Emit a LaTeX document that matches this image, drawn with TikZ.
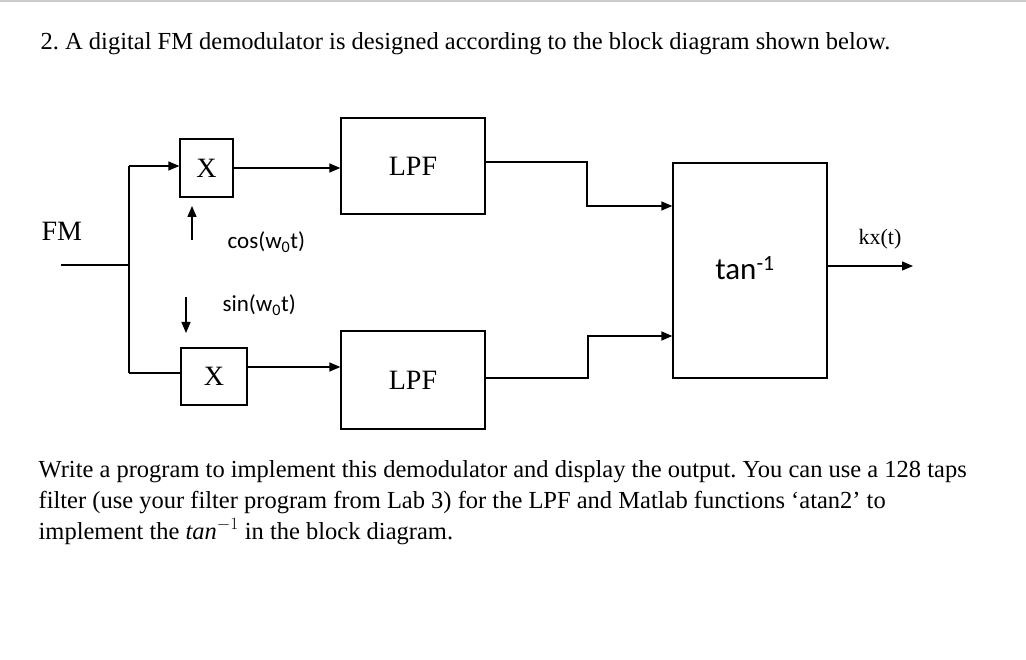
\documentclass[tikz,border=0pt]{standalone}
\usepackage{fontspec}
\usetikzlibrary{arrows.meta}
\setmainfont{Liberation Serif}
\newfontfamily\carl{Carlito}
\frenchspacing
\begin{document}
\begin{tikzpicture}[x=1pt,y=-1pt,line width=1.3pt,
  blk/.style={draw,line width=1.3pt},
  arr/.style={-{Triangle[length=11pt,width=9pt]}},
  lbl/.style={font=\fontsize{28}{28}\selectfont},
  txt/.style={font=\fontsize{24.5}{31}\selectfont,anchor=base west,inner sep=0}]
\useasboundingbox (0,0) rectangle (1026,660);
\draw[gray!40,line width=2pt] (0,1) -- (1026,1);
\node[txt] (title) at (40,50) {2. A digital FM demodulator is designed according to the block diagram shown below.};
\node[blk,lbl,minimum width=53,minimum height=58] (x1) at (206.5,168) {X};
\node[blk,lbl,minimum width=144,minimum height=96] (l1) at (413,166) {LPF};
\node[blk,lbl,minimum width=66,minimum height=57] (x2) at (214,376.5) {X};
\node[blk,lbl,minimum width=144,minimum height=98] (l2) at (413,380) {LPF};
\node[blk,minimum width=154,minimum height=215,font=\carl\fontsize{31}{31}\selectfont] (t) at (750,270.5) {};
\node[font=\carl\fontsize{31}{31}\selectfont] (tl) at (745,268) {tan\textsuperscript{-1}};
\node[lbl,anchor=west,inner sep=0] (fm) at (41,231) {FM};
\coordinate (in) at (61,265);
\coordinate (j) at (129,265);
\coordinate (jt) at (129,166);
\coordinate (jb) at (129,373);
\draw (in) -- (j) (jt) -- (jb);
\draw[arr] (jt) -- (x1.west|-jt);
\draw (jb) -- (x2.west|-jb);
\draw[arr] (x1.east|-0,168) -- (l1.west|-0,168);
\draw[arr] (x2.east|-0,367) -- (l2.west|-0,367);
\draw[arr] (l1.east|-0,162) -- (587,162) -- (587,206) -- (t.west|-0,206);
\draw[arr] (l2.east|-0,378) -- (588,378) -- (588,336) -- (t.west|-0,336);
\coordinate (out) at (913,266);
\draw[arr] (t.east|-out) -- (out);
\node[font=\fontsize{22}{22}\selectfont] (kx) at (880,239) {kx(t)};
\coordinate (c1) at (192,240); \coordinate (c2) at (192,206);
\draw[arr] (c1) -- (c2);
\node[font=\carl\fontsize{23}{23}\selectfont,anchor=west,inner sep=0] (cos) at (227,242) {cos(w\textsubscript{0}t)};
\coordinate (s1) at (186,297); \coordinate (s2) at (186,333);
\draw[arr] (s1) -- (s2);
\node[font=\carl\fontsize{23}{23}\selectfont,anchor=west,inner sep=0] (sin) at (222,305) {sin(w\textsubscript{0}t)};
\node[txt] (p1) at (38,477) {Write a program to implement this demodulator and display the output. You can use a 128 taps};
\node[txt] (p2) at (38,508) {filter (use your filter program from Lab 3) for the LPF and Matlab functions ‘atan2’ to};
\node[txt] (p3) at (38,539) {implement the $\mathit{tan}^{-1}$ in the block diagram.};
\end{tikzpicture}
\end{document}
